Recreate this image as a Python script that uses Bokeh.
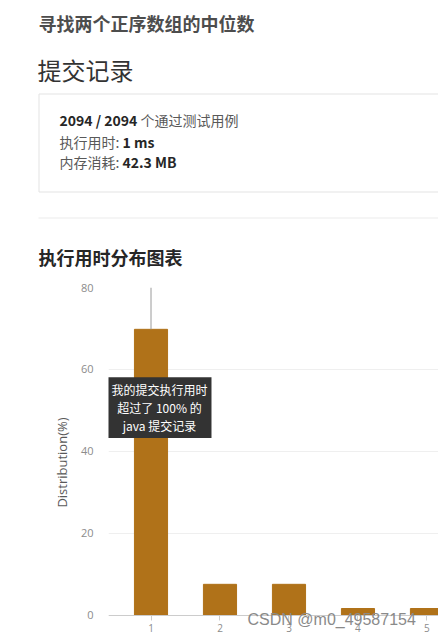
from bokeh.plotting import figure
from bokeh.models import Range1d, FixedTicker, Label
from bokeh.core.properties import value
from bokeh.embed import file_html
from bokeh.resources import INLINE

# ---- data ----
problem_title = "寻找两个正序数组的中位数"
section_title = "提交记录"
passed_cases = 2094
total_cases = 2094
runtime_ms = 1
memory_mb = 42.3
chart_title = "执行用时分布图表"
beats_pct = 100
language = "java"
my_bin = 1

bins = [1, 2, 3, 4, 5]
dist = [69.8, 7.6, 7.6, 1.7, 1.7]
y_ticks = [0, 20, 40, 60, 80]
x_ticks = [1, 2, 3, 4, 5]
y_max = 80

CJK = "Noto Sans CJK SC"

# ---- header (page coordinates) ----
h = figure(width=438, height=270, x_range=Range1d(0, 438), y_range=Range1d(270, 0),
           x_axis_type=None, y_axis_type=None, output_backend="svg", toolbar_location=None,
           min_border=0, outline_line_color=None)
h.grid.visible = False

h.text(x=[38], y=[22], text=[problem_title], text_font=value(CJK), text_font_size="18px",
       text_font_style="bold", text_color="#4d4d4d", text_baseline="middle")
h.text(x=[37], y=[69], text=[section_title], text_font=value(CJK), text_font_size="24px",
       text_color="#333333", text_baseline="middle")
h.quad(left=[38.5], right=[450], top=[93.5], bottom=[191.5], fill_color="white",
       line_color="#e3e3e3", line_width=1)
h.text(x=[59], y=[119.5], text=[f"{passed_cases} / {total_cases}"], text_font=value(CJK),
       text_font_size="14px", text_font_style="bold", text_color="#262626", text_baseline="middle")
h.text(x=[140], y=[119.5], text=["个通过测试用例"], text_font=value(CJK),
       text_font_size="14px", text_color="#595959", text_baseline="middle")
h.text(x=[59, 59], y=[141.5, 161], text=["执行用时:", "内存消耗:"], text_font=value(CJK),
       text_font_size="14px", text_color="#595959", text_baseline="middle")
h.text(x=[122, 122], y=[141.5, 161], text=[f"{runtime_ms} ms", f"{memory_mb} MB"],
       text_font=value(CJK), text_font_size="14px", text_font_style="bold",
       text_color="#262626", text_baseline="middle")
h.segment(x0=[38], y0=[217.5], x1=[445], y1=[217.5], line_color="#ebebeb", line_width=1)
h.text(x=[38], y=[256], text=[chart_title], text_font=value(CJK), text_font_size="18px",
       text_font_style="bold", text_color="#262626", text_baseline="middle")

# ---- chart ----
p = figure(width=438, height=367, x_range=Range1d(0.384, 5.167), y_range=Range1d(-5.37, y_max),
           output_backend="svg", toolbar_location=None,
           min_border_left=108, min_border_right=0, min_border_top=17, min_border_bottom=0,
           outline_line_color=None)
p.vbar(x=bins, top=dist, width=0.48, color="#b07219")
p.segment(x0=[my_bin], y0=[dist[bins.index(my_bin)]], x1=[my_bin], y1=[y_max],
          line_color="#9a9a9a", line_width=1)

p.xgrid.visible = False
p.ygrid.grid_line_color = "#efefef"
p.yaxis.ticker = FixedTicker(ticks=y_ticks)
p.xaxis.ticker = FixedTicker(ticks=x_ticks)
p.yaxis.axis_line_color = None
p.yaxis.major_tick_line_color = None
p.yaxis.minor_tick_line_color = None
p.yaxis.major_label_text_color = "#8c8c8c"
p.yaxis.major_label_text_font = "Open Sans"
p.yaxis.major_label_text_font_size = "11px"
p.yaxis.major_label_standoff = 9
p.yaxis.axis_label = "Distribution(%)"
p.yaxis.axis_label_text_font = "Open Sans"
p.yaxis.axis_label_text_font_style = "normal"
p.yaxis.axis_label_text_font_size = "13px"
p.yaxis.axis_label_text_color = "#595959"
p.yaxis.axis_label_standoff = 7

p.xaxis.fixed_location = 0
p.xaxis.axis_line_color = "#cccccc"
p.xaxis.major_tick_line_color = "#cccccc"
p.xaxis.major_tick_in = 0
p.xaxis.major_tick_out = 5
p.xaxis.minor_tick_line_color = None
p.xaxis.major_label_text_color = "#8c8c8c"
p.xaxis.major_label_text_font = "Open Sans"
p.xaxis.major_label_text_font_size = "10px"
p.xaxis.major_label_standoff = 4

tip = Label(x=my_bin + 0.123, y=50.7, x_units="data", y_units="data",
            text=f"我的提交执行用时\n超过了 {beats_pct}% 的\n{language} 提交记录",
            text_font=CJK, text_font_size="12px", text_color="white",
            text_align="center", text_baseline="middle", text_line_height=1.05,
            background_fill_color="#333333", background_fill_alpha=1.0, padding=4)
p.add_layout(tip)

wm = Label(x=2.399, y=-1.05, x_units="data", y_units="data", text="CSDN @m0_49587154",
           text_font="Liberation Sans", text_font_size="16px", text_color="#8a8a8a",
           text_align="left", text_baseline="middle")
p.add_layout(wm)

open("out.html", "w").write(file_html([h, p], INLINE))
